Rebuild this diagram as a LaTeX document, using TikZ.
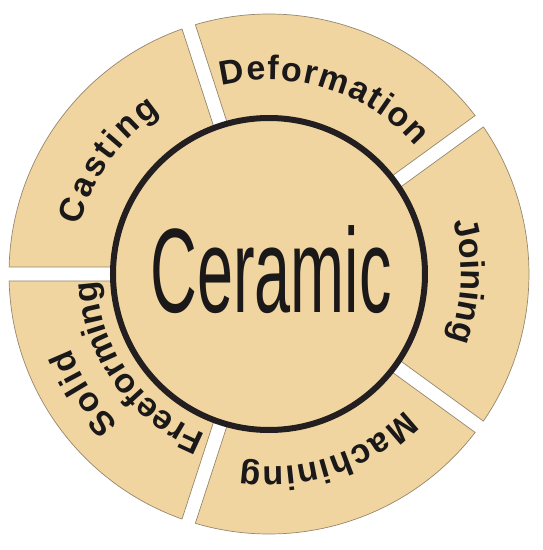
\documentclass[tikz,border=0pt]{standalone}
\usepackage{fontspec}
\usetikzlibrary{decorations.text}
\newfontfamily\lab{Liberation Sans}
\newfontfamily\cer[FakeStretch=0.54]{Liberation Sans}
\definecolor{sectorfill}{RGB}{241,213,161}
\definecolor{edgegray}{RGB}{150,135,110}
\definecolor{ringdark}{RGB}{35,31,32}
\definecolor{txt}{RGB}{26,24,24}
\tikzset{
  sector/.style={fill=sectorfill, draw=edgegray, line width=0.7pt},
  core/.style={circle, draw=ringdark, line width=6pt, fill=sectorfill, minimum size=312pt, inner sep=0pt},
}
\newcommand\ringsector[2]{%
  \path[sector] ({#1+1.543}:260) arc[start angle={#1+1.543}, end angle={#2-1.543}, radius=260]
    -- ({#2-2.866}:140) arc[start angle={#2-2.866}, end angle={#1+2.866}, radius=140] -- cycle;}
\newcommand\ringlabel[4]{%
  \path[decorate, decoration={text along path,
      text={|\lab\bfseries\fontsize{34}{34}\selectfont\color{txt}|#4},
      text align={fit to path}}]
    ({#2}:#1) arc[start angle={#2}, end angle={#3}, radius=#1];}
\begin{document}
\begin{tikzpicture}[x=1pt,y=1pt]
\useasboundingbox (-269,-276) rectangle (273,274);
\ringsector{-36}{36}
\ringsector{36}{108}
\ringsector{108}{180}
\ringsector{180}{252}
\ringsector{252}{324}
\node (core) [core] at (0,0) {};
\node (ceramic) [anchor=base, inner sep=0pt, text=txt, font=\cer\fontsize{120}{120}\selectfont] at (2,-38) {Ceramic};
\ringlabel{194}{104}{41}{Deformation}
\ringlabel{195}{165.5}{124}{Casting}
\ringlabel{192}{16}{-17.5}{Joining}
\ringlabel{193}{-45}{-98.5}{Machining}
\ringlabel{212}{225}{200.5}{Solid}
\ringlabel{172}{248.5}{185}{Freeforming}
\end{tikzpicture}
\end{document}
